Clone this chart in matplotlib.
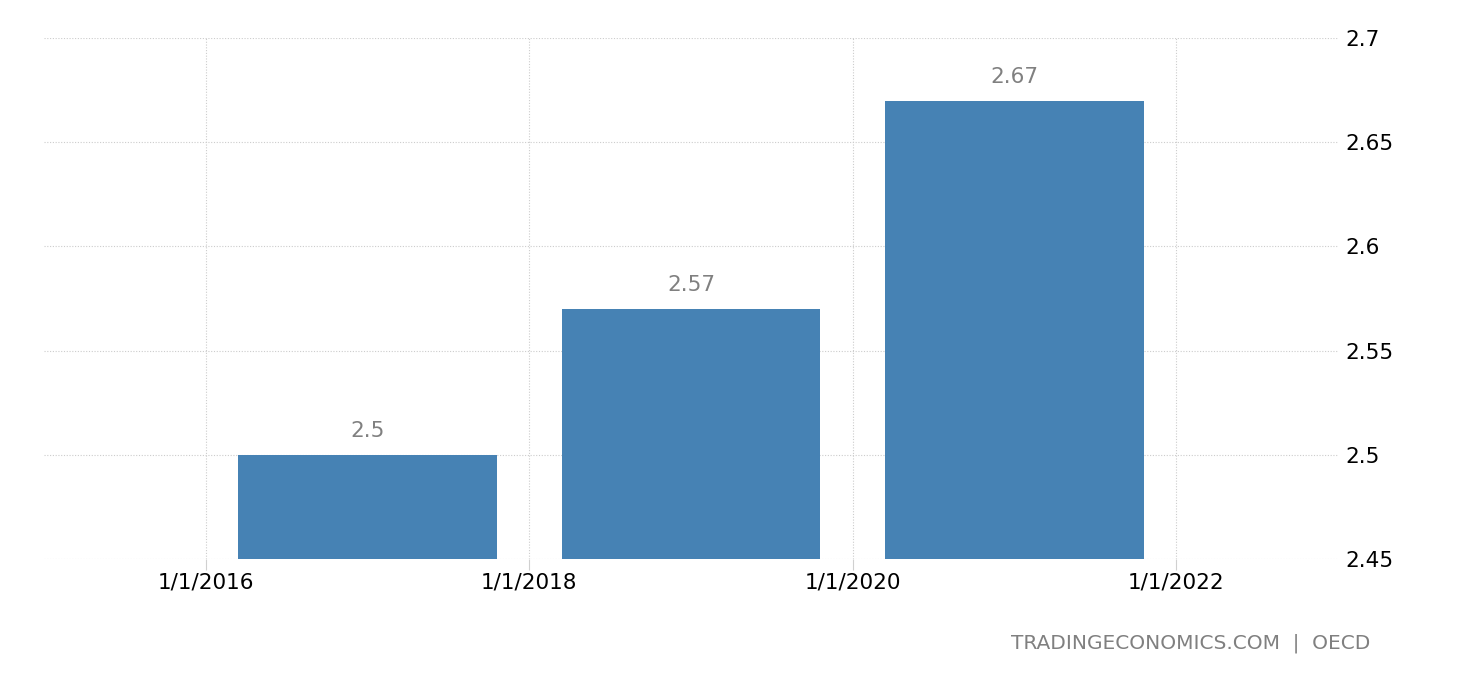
import matplotlib
matplotlib.use("Agg")
import matplotlib.pyplot as plt
import matplotlib.dates as mdates
from datetime import datetime

dates = ["2017-01-01", "2019-01-01", "2021-01-01"]
values = [2.5, 2.57, 2.67]
value_labels = ["2.5", "2.57", "2.67"]
xtick_dates = ["2016-01-01", "2018-01-01", "2020-01-01", "2022-01-01"]
xtick_labels = ["1/1/2016", "1/1/2018", "1/1/2020", "1/1/2022"]
yticks = [2.45, 2.5, 2.55, 2.6, 2.65, 2.7]
ytick_labels = ["2.45", "2.5", "2.55", "2.6", "2.65", "2.7"]

plt.rcParams['font.family'] = ['DejaVu Sans']

W, H = 1460, 680
fig = plt.figure(figsize=(W / 100, H / 100), dpi=100)
ax = fig.add_axes([44 / W, 1 - 559 / H, (1338 - 44) / W, (559 - 38) / H])

xd = [mdates.date2num(datetime.fromisoformat(d)) for d in dates]
bars = ax.bar(xd, [v - 2.45 for v in values], bottom=2.45, width=584,
              color="#4682b4", zorder=3)
for x, v, lab in zip(xd, values, value_labels):
    ax.text(x, v + 0.0065, lab, ha="center", va="bottom", fontsize=15.5, color="#808080", zorder=4)

ax.set_xlim(mdates.date2num(datetime(2015, 1, 1)), mdates.date2num(datetime(2023, 1, 1)))
ax.set_ylim(2.45, 2.7)
xt = [mdates.date2num(datetime.fromisoformat(d)) for d in xtick_dates]
ax.set_xticks(xt)
ax.set_xticklabels(xtick_labels, fontsize=15.5, color="black")
ax.set_yticks(yticks)
ax.set_yticklabels(ytick_labels, fontsize=15.5, color="black")
ax.yaxis.tick_right()
ax.tick_params(axis="y", length=0, pad=5)
ax.tick_params(axis="x", length=8, color="#d0d0d0", pad=2)
ax.grid(True, color="#cccccc", linestyle=(0, (1, 1.5)), linewidth=0.8, zorder=0)
for s in ax.spines.values():
    s.set_visible(False)

fig.text(1370 / W, 1 - 643 / H, "TRADINGECONOMICS.COM  |  OECD", ha="right", va="center",
         fontsize=14.5, color="#808080")

fig.savefig("out.png", dpi=100)
